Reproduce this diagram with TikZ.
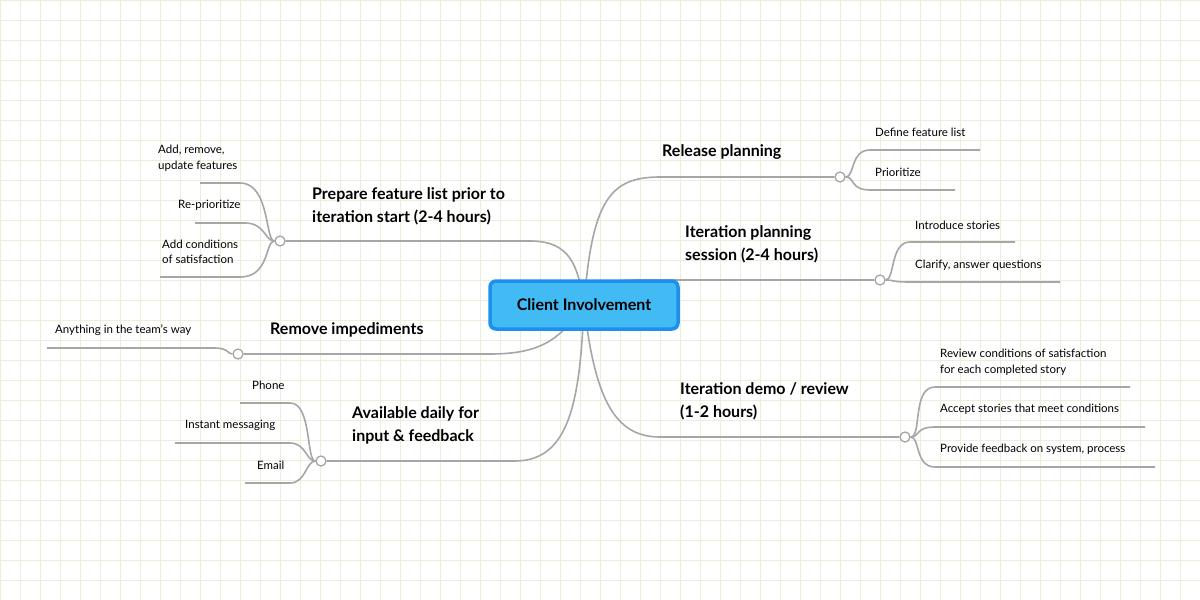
\documentclass[tikz,border=0pt]{standalone}
\usepackage{fontspec}
\setmainfont{Lato}
\usetikzlibrary{positioning}
\definecolor{gridc}{HTML}{EAEFDC}
\definecolor{linec}{HTML}{A6A6A6}
\definecolor{boxfill}{HTML}{42BBF5}
\definecolor{boxdraw}{HTML}{1E8FEF}
\tikzset{
  branch/.style={draw=linec,line width=1.6pt},
  knot/.style={circle,draw=linec,fill=white,line width=1.3pt,inner sep=0pt,minimum size=10pt},
  topic/.style={font=\bfseries\fontsize{16}{23}\selectfont,align=left,inner sep=0pt},
  leaf/.style={font=\fontsize{11.5}{15.5}\selectfont,align=left,inner sep=0pt},
  central/.style={rounded corners=6pt,fill=boxfill,draw=boxdraw,line width=3.5pt,
    minimum width=188pt,minimum height=48pt,font=\bfseries\fontsize{16}{19}\selectfont}
}
\begin{document}
\begin{tikzpicture}[x=1pt,y=-1pt]
\useasboundingbox (0,0) rectangle (1200,600);
\foreach \gx in {0,20,...,1200} \draw[gridc,line width=0.7pt] (\gx,0) -- (\gx,600);
\foreach \gy in {0,20,...,600} \draw[gridc,line width=0.7pt] (0,\gy) -- (1200,\gy);
\coordinate (hub) at (584,305);

% right side
\node[knot] (rp) at (840,177) {};
\node[topic,anchor=west] (rpt) at (662,152) {Release planning};
\draw[branch] (hub) .. controls (592,200) and (610,177) .. (660,177) -- (rp);
\node[leaf,anchor=west] (rp1) at (875,132) {Define feature list};
\node[leaf,anchor=west] (rp2) at (875,172) {Prioritize};
\draw[branch] (rp.east) .. controls (855,177) and (850,150) .. (870,150) -- (980,150);
\draw[branch] (rp.east) .. controls (855,177) and (850,190) .. (870,190) -- (955,190);

\node[knot] (ip) at (880,280) {};
\node[topic,anchor=west] (ipt) at (685,244) {Iteration planning\\session (2-4 hours)};
\draw[branch] (hub) .. controls (590,285) and (600,280) .. (640,280) -- (ip);
\node[leaf,anchor=west] (ip1) at (915,225) {Introduce stories};
\node[leaf,anchor=west] (ip2) at (915,265) {Clarify, answer questions};
\draw[branch] (ip.east) .. controls (895,280) and (890,242) .. (910,242) -- (1015,242);
\draw[branch] (ip.east) .. controls (895,280) and (890,282) .. (910,282) -- (1060,282);

\node[knot] (dr) at (905,437) {};
\node[topic,anchor=west] (drt) at (680,401) {Iteration demo / review\\(1-2 hours)};
\draw[branch] (hub) .. controls (595,400) and (615,437) .. (660,437) -- (dr);
\node[leaf,anchor=west] (dr1) at (940,362) {Review conditions of satisfaction\\for each completed story};
\node[leaf,anchor=west] (dr2) at (940,409) {Accept stories that meet conditions};
\node[leaf,anchor=west] (dr3) at (940,449) {Provide feedback on system, process};
\draw[branch] (dr.east) .. controls (922,437) and (912,387) .. (935,387) -- (1130,387);
\draw[branch] (dr.east) .. controls (920,437) and (915,427) .. (935,427) -- (1145,427);
\draw[branch] (dr.east) .. controls (920,437) and (915,467) .. (935,467) -- (1155,467);

% left side
\node[knot] (pf) at (280,241) {};
\node[topic,anchor=west] (pft) at (312,206) {Prepare feature list prior to\\iteration start (2-4 hours)};
\draw[branch] (hub) .. controls (578,265) and (570,241) .. (530,241) -- (pf);
\node[leaf,anchor=west] (pf1) at (158,158) {Add, remove,\\update features};
\node[leaf,anchor=west] (pf2) at (178,205) {Re-prioritize};
\node[leaf,anchor=west] (pf3) at (162,252) {Add conditions\\of satisfaction};
\draw[branch] (pf.west) .. controls (265,241) and (270,183) .. (240,183) -- (200,183);
\draw[branch] (pf.west) .. controls (265,241) and (265,223) .. (245,223) -- (195,223);
\draw[branch] (pf.west) .. controls (265,241) and (270,277) .. (240,277) -- (160,277);

\node[knot] (ri) at (238,354) {};
\node[topic,anchor=west] (rit) at (270,330) {Remove impediments};
\draw[branch] (hub) .. controls (560,340) and (540,354) .. (490,354) -- (ri);
\node[leaf,anchor=west] (ri1) at (55,330) {Anything in the team's way};
\draw[branch] (ri.west) .. controls (228,354) and (228,348) .. (215,348) -- (47,348);

\node[knot] (ad) at (321,461) {};
\node[topic,anchor=west] (adt) at (352,425) {Available daily for\\input \& feedback};
\draw[branch] (hub) .. controls (580,400) and (570,461) .. (515,461) -- (ad);
\node[leaf,anchor=west] (ad1) at (252,385) {Phone};
\node[leaf,anchor=west] (ad2) at (185,425) {Instant messaging};
\node[leaf,anchor=west] (ad3) at (257,465) {Email};
\draw[branch] (ad.west) .. controls (306,461) and (312,403) .. (290,403) -- (240,403);
\draw[branch] (ad.west) .. controls (306,461) and (306,443) .. (290,443) -- (175,443);
\draw[branch] (ad.west) .. controls (306,461) and (306,483) .. (290,483) -- (245,483);

\node[central] (ci) at (hub) {Client Involvement};
\end{tikzpicture}
\end{document}
